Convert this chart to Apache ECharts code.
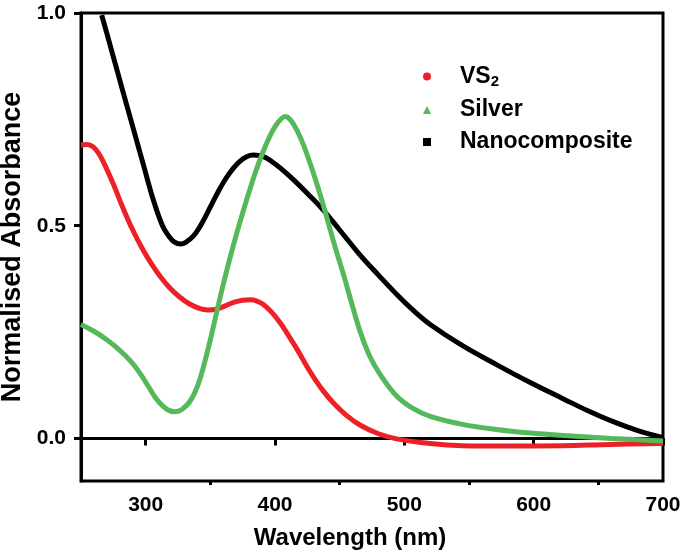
<!DOCTYPE html>
<html>
<head>
<meta charset="utf-8">
<script src="https://cdn.jsdelivr.net/npm/echarts@6/dist/echarts.min.js"></script>
<style>
  html, body { margin: 0; padding: 0; background: #fff; }
  #chart { width: 685px; height: 558px; }
</style>
</head>
<body>
<div id="chart"></div>
<script>
// Donnees
const vs2Wavelength = [250, 255, 259, 263, 267, 275, 282, 290, 298, 305, 311, 318, 326, 334, 342, 348, 355, 361, 368, 375, 381, 386, 391, 397, 404, 410, 417, 423, 429, 437, 445, 455, 466, 480, 494, 520, 545, 580, 622, 660, 700];
const vs2Absorbance = [0.69, 0.691, 0.686, 0.673, 0.652, 0.598, 0.545, 0.49, 0.443, 0.408, 0.382, 0.356, 0.333, 0.316, 0.305, 0.302, 0.304, 0.311, 0.32, 0.325, 0.326, 0.323, 0.315, 0.298, 0.272, 0.244, 0.21, 0.178, 0.148, 0.113, 0.084, 0.055, 0.031, 0.011, -0.001, -0.012, -0.017, -0.018, -0.017, -0.014, -0.012];

const silverWavelength = [250, 260, 270, 280, 288, 295, 303, 308, 313, 318, 323, 328, 334, 338, 342, 347, 351, 355, 360, 365, 370, 375, 380, 385, 390, 395, 400, 405, 408, 412, 417, 422, 429, 435, 440, 446, 453, 460, 466, 473, 481, 494, 507, 520, 545, 571, 600, 623, 660, 700];
const silverAbsorbance = [0.268, 0.252, 0.232, 0.207, 0.183, 0.156, 0.118, 0.094, 0.077, 0.066, 0.063, 0.068, 0.086, 0.108, 0.14, 0.195, 0.245, 0.298, 0.362, 0.422, 0.478, 0.53, 0.58, 0.627, 0.668, 0.704, 0.733, 0.752, 0.757, 0.749, 0.724, 0.69, 0.63, 0.572, 0.52, 0.455, 0.385, 0.31, 0.25, 0.195, 0.152, 0.1, 0.07, 0.052, 0.033, 0.021, 0.012, 0.007, 0.0, -0.006];

const nanoWavelength = [266, 270, 275, 282, 290, 298, 306, 313, 318, 322, 327, 331, 337, 342, 347, 352, 357, 362, 368, 373, 378, 383, 388, 393, 398, 404, 414, 425, 437, 450, 465, 480, 494, 507, 520, 545, 571, 597, 623, 642, 661, 680, 700];
const nanoAbsorbance = [0.995, 0.952, 0.897, 0.82, 0.733, 0.646, 0.56, 0.5, 0.475, 0.462, 0.457, 0.461, 0.476, 0.498, 0.526, 0.556, 0.585, 0.611, 0.636, 0.652, 0.662, 0.666, 0.665, 0.66, 0.65, 0.636, 0.609, 0.576, 0.538, 0.49, 0.434, 0.384, 0.339, 0.301, 0.268, 0.218, 0.174, 0.132, 0.093, 0.065, 0.04, 0.019, 0.002];

const xTicks = [300, 400, 500, 600, 700];
const xMinorTicks = [350, 450, 550, 650];
const yTicks = [0, 0.5, 1.0];

const font = 'Liberation Sans, Arial, Helvetica, sans-serif';

const pairs = (xs, ys) => xs.map((x, i) => [x, ys[i]]);

const chart = echarts.init(document.getElementById('chart'));

const option = {
  animation: false,
  grid: {
    left: 81,
    right: 22,
    top: 13,
    bottom: 77,
    outerBoundsMode: 'none',
    containLabel: false,
    show: true,
    borderColor: '#000',
    borderWidth: 3,
  },
  legend: {
    orient: 'vertical',
    left: 423,
    top: 65,
    padding: 0,
    itemWidth: 8,
    itemHeight: 8,
    itemGap: 9,
    data: [
      { name: 'VS2', icon: 'circle' },
      { name: 'Silver', icon: 'triangle' },
      { name: 'Nanocomposite', icon: 'rect' },
    ],
    formatter: function (name) {
      if (name === 'VS2') return '{n|VS}{s|2}';
      return '{n|' + name + '}';
    },
    textStyle: {
      color: '#000',
      padding: [0, 0, 0, 24],
      rich: {
        n: { fontFamily: font, fontWeight: 'bold', fontSize: 23, color: '#000' },
        s: { fontFamily: font, fontWeight: 'bold', fontSize: 15, color: '#000', padding: [11, 0, 0, 0] },
      },
    },
  },
  xAxis: [
    {
      type: 'value',
      min: 250,
      max: 700,
      name: 'Wavelength (nm)',
      nameLocation: 'middle',
      nameGap: 45,
      nameTextStyle: {
        fontFamily: font,
        fontWeight: 'bold',
        fontSize: 24,
        color: '#000',
        padding: [0, 44, 0, 0],
      },
      axisLine: { show: true, lineStyle: { color: '#000', width: 3 } },
      axisTick: {
        show: true,
        customValues: xTicks,
        length: 7,
        lineStyle: { color: '#000', width: 3 },
      },
      axisLabel: {
        customValues: xTicks,
        margin: 14,
        fontFamily: font,
        fontWeight: 'bold',
        fontSize: 21,
        color: '#000',
      },
      splitLine: { show: false },
    },
    {
      type: 'value',
      position: 'bottom',
      min: 250,
      max: 700,
      axisLine: { show: false },
      axisTick: {
        show: true,
        customValues: xMinorTicks,
        length: 4,
        lineStyle: { color: '#000', width: 3 },
      },
      axisLabel: { show: false },
      splitLine: { show: false },
    },
  ],
  yAxis: {
    type: 'value',
    min: -0.1,
    max: 1.0,
    name: 'Normalised Absorbance',
    nameLocation: 'middle',
    nameGap: 54,
    nameTextStyle: {
      fontFamily: font,
      fontWeight: 'bold',
      fontSize: 27,
      color: '#000',
    },
    axisLine: { show: true, lineStyle: { color: '#000', width: 3 } },
    axisTick: {
      show: true,
      customValues: yTicks,
      length: 7,
      lineStyle: { color: '#000', width: 3 },
    },
    axisLabel: {
      customValues: yTicks,
      margin: 15,
      fontFamily: font,
      fontWeight: 'bold',
      fontSize: 21,
      color: '#000',
      formatter: (v) => v.toFixed(1),
    },
    splitLine: { show: false },
  },
  series: [
    {
      name: 'Nanocomposite',
      type: 'line',
      data: pairs(nanoWavelength, nanoAbsorbance),
      smooth: 0.4,
      showSymbol: false,
      color: '#000',
      lineStyle: { color: '#000', width: 5 },
    },
    {
      name: 'VS2',
      type: 'line',
      data: pairs(vs2Wavelength, vs2Absorbance),
      smooth: 0.4,
      showSymbol: false,
      color: '#ec2127',
      lineStyle: { color: '#ec2127', width: 5 },
    },
    {
      name: 'Silver',
      type: 'line',
      data: pairs(silverWavelength, silverAbsorbance),
      smooth: 0.4,
      showSymbol: false,
      color: '#55b85a',
      lineStyle: { color: '#55b85a', width: 5 },
    },
  ],
};

chart.setOption(option);
</script>
</body>
</html>
